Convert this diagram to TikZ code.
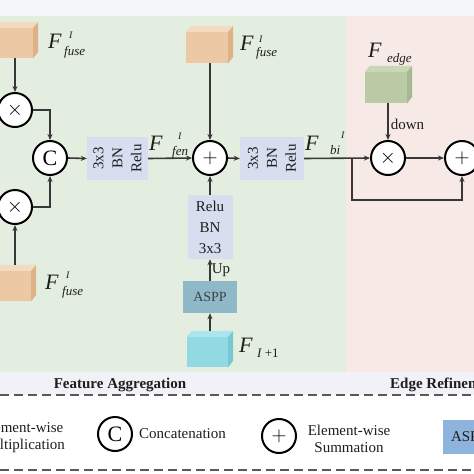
\documentclass[tikz,border=0pt]{standalone}
\usepackage{fontspec}
\setmainfont{Liberation Serif}
\usetikzlibrary{arrows.meta}
\definecolor{topbg}{RGB}{246,247,249}
\definecolor{greenbg}{RGB}{228,238,224}
\definecolor{pinkbg}{RGB}{247,233,230}
\definecolor{stripbg}{RGB}{240,242,247}
\definecolor{convc}{RGB}{214,222,240}
\definecolor{asppc}{RGB}{143,184,200}
\definecolor{asppl}{RGB}{142,179,220}
\definecolor{orF}{RGB}{236,201,164}
\definecolor{orT}{RGB}{243,219,192}
\definecolor{orS}{RGB}{222,178,135}
\definecolor{cyF}{RGB}{147,217,227}
\definecolor{cyT}{RGB}{172,229,236}
\definecolor{cyS}{RGB}{120,200,212}
\definecolor{grF}{RGB}{185,202,165}
\definecolor{grT}{RGB}{200,216,182}
\definecolor{grS}{RGB}{165,184,145}
\definecolor{linec}{RGB}{55,55,55}
\definecolor{txt}{RGB}{30,30,30}
\newcommand\mycube[8]{%
  \node[fill=#6, minimum width=#4, minimum height=#5, inner sep=0pt] (#1) at (#2,#3) {};
  \fill[#7] (#1.north west) -- ++(5,-6) -- ++(#4,0) -- (#1.north east) -- cycle;
  \fill[#8] (#1.north east) -- ++(5,-6) -- ++(0,#5) -- (#1.south east) -- cycle;
}
\begin{document}
\begin{tikzpicture}[x=1pt,y=-1pt,
  op/.style={circle, draw=black, line width=2pt, fill=white, minimum size=34pt, inner sep=0pt},
  convbox/.style={fill=convc, inner sep=0pt, text=txt},
  ln/.style={draw=linec, line width=1.6pt},
  arr/.style={ln, -{Stealth[length=6pt,width=5pt]}},
  flab/.style={font=\fontsize{22}{22}\selectfont\itshape, inner sep=0pt, anchor=base west, text=txt},
  suplab/.style={font=\fontsize{10}{10}\selectfont\itshape, inner sep=0pt, anchor=base west, text=txt},
  sublab/.style={font=\fontsize{13}{13}\selectfont\itshape, inner sep=0pt, anchor=base west, text=txt},
  plain/.style={font=\fontsize{15}{17}\selectfont, inner sep=0pt, text=txt},
  seclab/.style={font=\fontsize{15}{15}\selectfont\bfseries, inner sep=0pt, anchor=base, text=txt},
  dline/.style={draw=black!65, line width=1.8pt, dash pattern=on 9pt off 5pt}
]
\useasboundingbox (0,0) rectangle (474,474);
% backgrounds
\fill[white] (0,0) rectangle (474,474);
\fill[topbg] (0,0) rectangle (474,16);
\fill[greenbg] (0,16) rectangle (346,372);
\fill[pinkbg] (346,16) rectangle (474,372);
\fill[stripbg] (0,372) rectangle (474,395);

% cubes
\mycube{c1}{11.5}{43}{43}{30}{orF}{orT}{orS}
\mycube{c2}{10.5}{286}{41}{30}{orF}{orT}{orS}
\mycube{c3}{207}{47.5}{42}{31}{orF}{orT}{orS}
\mycube{c4}{207.5}{352}{41}{30}{cyF}{cyT}{cyS}
\mycube{c5}{386}{87.5}{42}{31}{grF}{grT}{grS}

% operators
\node[op, font=\fontsize{20}{20}\selectfont] (m1) at (15,110) {$\times$};
\node[op, font=\fontsize{22}{22}\selectfont] (cc) at (50,158) {C};
\node[op, font=\fontsize{20}{20}\selectfont] (m2) at (15,207) {$\times$};
\node[op, font=\fontsize{20}{20}\selectfont] (s1) at (210,158) {$+$};
\node[op, font=\fontsize{20}{20}\selectfont] (m3) at (388,158) {$\times$};
\node[op, font=\fontsize{20}{20}\selectfont] (s2) at (462,158) {$+$};

% conv boxes
\node[convbox, minimum width=61pt, minimum height=43pt] (cv1) at (117.5,158.5) {};
\node[rotate=90, align=center, plain, font=\fontsize{15}{19}\selectfont] (cv1t) at (cv1) {3x3\\BN\\Relu};
\node[convbox, minimum width=64pt, minimum height=43pt] (cv2) at (272,158.5) {};
\node[rotate=90, align=center, plain, font=\fontsize{15}{19}\selectfont] (cv2t) at (cv2) {3x3\\BN\\Relu};
\node[convbox, minimum width=45pt, minimum height=64pt, align=center, font=\fontsize{15}{21}\selectfont] (vb) at (210,227) {Relu\\BN\\3x3};
\node[fill=asppc, minimum width=54pt, minimum height=32pt, inner sep=0pt, font=\fontsize{14}{14}\selectfont, text=txt!85] (aspp) at (210,297) {ASPP};

% helper coordinates
\coordinate (c2t) at ([yshift=6pt]c2.north);
\coordinate (c4t) at ([yshift=6pt]c4.north);
\coordinate (br) at (352,158);
\coordinate (lp) at (352,200);
\coordinate (out) at (490,158);

% connectors
\draw[arr] (m1 |- c1.south) -- (m1.north);
\draw[arr] (m2 |- c2t) -- (m2.south);
\draw[arr] (m1.east) -| (cc.north);
\draw[arr] (m2.east) -| (cc.south);
\draw[arr] (cc.east) -- (cv1.west);
\draw[arr] (cv1.east) -- (s1.west);
\draw[arr] (s1 |- c3.south) -- (s1.north);
\draw[arr] (vb.north) -- (s1.south);
\draw[arr] (aspp.north) -- node[right=1pt, plain, font=\fontsize{15}{15}\selectfont] (uplab) {Up} (vb.south);
\draw[arr] (aspp |- c4t) -- (aspp.south);
\draw[arr] (s1.east) -- (cv2.west);
\draw[arr] (cv2.east) -- (m3.west);
\draw[arr] (br) -- (lp) -| (s2.south);
\draw[arr] (m3 |- c5.south) -- node[right=2pt, plain, font=\fontsize{15}{15}\selectfont, yshift=-3pt] (downlab) {down} (m3.north);
\draw[arr] (m3.east) -- (s2.west);
\draw[ln] (s2.east) -- (out);

% F labels
\node[flab] (l1F) at (48,48) {F};
\node[suplab] (l1s) at (69,38) {I};
\node[sublab] (l1b) at (64,55) {fuse};
\node[flab] (l2F) at (240,50) {F};
\node[suplab] (l2s) at (259,42) {I};
\node[sublab] (l2b) at (256,56) {fuse};
\node[flab] (l3F) at (45,289) {F};
\node[suplab] (l3s) at (66,278) {I};
\node[sublab] (l3b) at (62,295) {fuse};
\node[flab] (l4F) at (149,150) {F};
\node[suplab] (l4s) at (178,139) {I};
\node[sublab] (l4b) at (172,155) {fen};
\node[flab] (l5F) at (305,150) {F};
\node[suplab] (l5s) at (341,138) {I};
\node[sublab] (l5b) at (330,154) {bi};
\node[flab] (l6F) at (368,57) {F};
\node[sublab] (l6b) at (387,62) {edge};
\node[flab] (l7F) at (239,352) {F};
\node[sublab] (l7b) at (257,357) {I \upshape+1};

% section labels
\node[seclab] (secfa) at (120,388) {Feature Aggregation};
\node[seclab, anchor=base west] (secer) at (390,388) {Edge Refinement};

% legend
\draw[dline] (0,395) -- (474,395);
\draw[dline] (0,470) -- (474,470);
\node[plain, align=center] (lg1) at (22,437) {Element-wise\\Multiplication};
\node[op, font=\fontsize{22}{22}\selectfont] (lgc) at (115,434) {C};
\node[plain, anchor=west] (lg2) at (139,434) {Concatenation};
\node[op, font=\fontsize{20}{20}\selectfont] (lgs) at (279,436) {$+$};
\node[plain, align=center] (lg3) at (349,439) {Element-wise\\Summation};
\node[fill=asppl, minimum width=52pt, minimum height=34pt, inner sep=0pt, font=\fontsize{15}{15}\selectfont, text=txt] (lga) at (469,437) {ASPP};
\end{tikzpicture}
\end{document}
